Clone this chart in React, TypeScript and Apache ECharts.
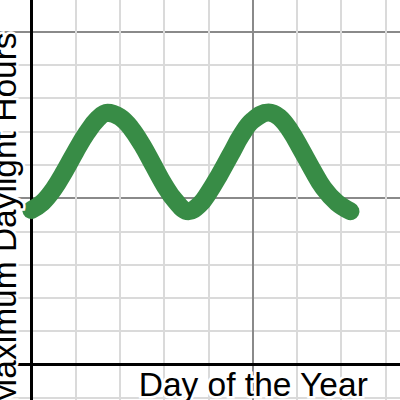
import React, { useEffect, useRef } from "react";
import * as echarts from "echarts";

// Curve points (x and y in grid units)
const dayValues = [
  0, 0.25, 0.5, 0.75, 1.0, 1.25, 1.5, 1.72, 2.0, 2.25, 2.5, 2.75, 3.0, 3.25, 3.55,
  3.8, 4.0, 4.25, 4.5, 4.75, 5.0, 5.36, 5.6, 5.85, 6.1, 6.35, 6.6, 6.9, 7.21,
];
const hourValues = [
  4.64, 4.86, 5.26, 5.8, 6.4, 6.95, 7.38, 7.56, 7.43, 7.1, 6.6, 6.0, 5.4, 4.92, 4.6,
  4.8, 5.15, 5.7, 6.3, 6.9, 7.33, 7.57, 7.43, 7.02, 6.45, 5.85, 5.3, 4.86, 4.6,
];

const xAxisName = "Day of the Year";
const yAxisName = "Maximum Daylight Hours";

const xRange = [-5, 10];
const yRange = [-5, 15];
const majorStep = 5;
const minorSplits = 5;

// chart canvas is larger than the window so the grid runs past the edges
const OFF_X = 190.25;
const OFF_Y = 135.5;
const CW = 663.75;
const CH = 666;

export default function App() {
  const ref = useRef<HTMLDivElement>(null);
  useEffect(() => {
    if (!ref.current) return;
    const chart = echarts.init(ref.current, null, { renderer: "svg" });
    const font = '33.5px "Liberation Sans", Arial, sans-serif';
    const mkText = (text: string, x: number, y: number, rotation: number, halo: boolean) => ({
      type: "text",
      x: x + OFF_X,
      y: y + OFF_Y,
      rotation,
      z: 100,
      silent: true,
      style: {
        text,
        font,
        fill: halo ? "#fff" : "#000",
        stroke: halo ? "#fff" : undefined,
        lineWidth: halo ? 5 : 0,
        align: "center",
        verticalAlign: "middle",
      },
    });
    const axisCommon = {
      type: "value",
      interval: majorStep,
      axisLabel: { show: false },
      axisTick: { show: false },
      axisLine: { show: true, onZero: true, lineStyle: { color: "#000", width: 3 } },
      splitLine: { show: true, lineStyle: { color: "#8a8a8a", width: 2 } },
      minorTick: { show: false, splitNumber: minorSplits },
      minorSplitLine: { show: true, lineStyle: { color: "#dadada", width: 2 } },
    };
    chart.setOption({
      animation: false,
      backgroundColor: "#fff",
      grid: { left: 0, right: 0, top: 0, bottom: 0 },
      xAxis: { ...axisCommon, min: xRange[0], max: xRange[1] },
      yAxis: { ...axisCommon, min: yRange[0], max: yRange[1] },
      series: [
        {
          type: "line",
          data: dayValues.map((d, i) => [d, hourValues[i]]),
          smooth: 0.4,
          showSymbol: false,
          symbol: "none",
          silent: true,
          lineStyle: { color: "#388c46", width: 18, cap: "round", join: "round" },
        },
      ],
      graphic: [
        mkText(xAxisName, 253, 384, 0, true),
        mkText(xAxisName, 253, 384, 0, false),
        mkText(yAxisName, 4.5, 219, Math.PI / 2, true),
        mkText(yAxisName, 4.5, 219, Math.PI / 2, false),
      ],
    });
    return () => chart.dispose();
  }, []);
  return (
    <div
      style={{
        position: "fixed",
        left: 0,
        top: 0,
        width: 400,
        height: 400,
        overflow: "hidden",
        background: "#fff",
      }}
    >
      <div
        ref={ref}
        style={{ position: "absolute", left: -OFF_X, top: -OFF_Y, width: CW, height: CH }}
      />
    </div>
  );
}
